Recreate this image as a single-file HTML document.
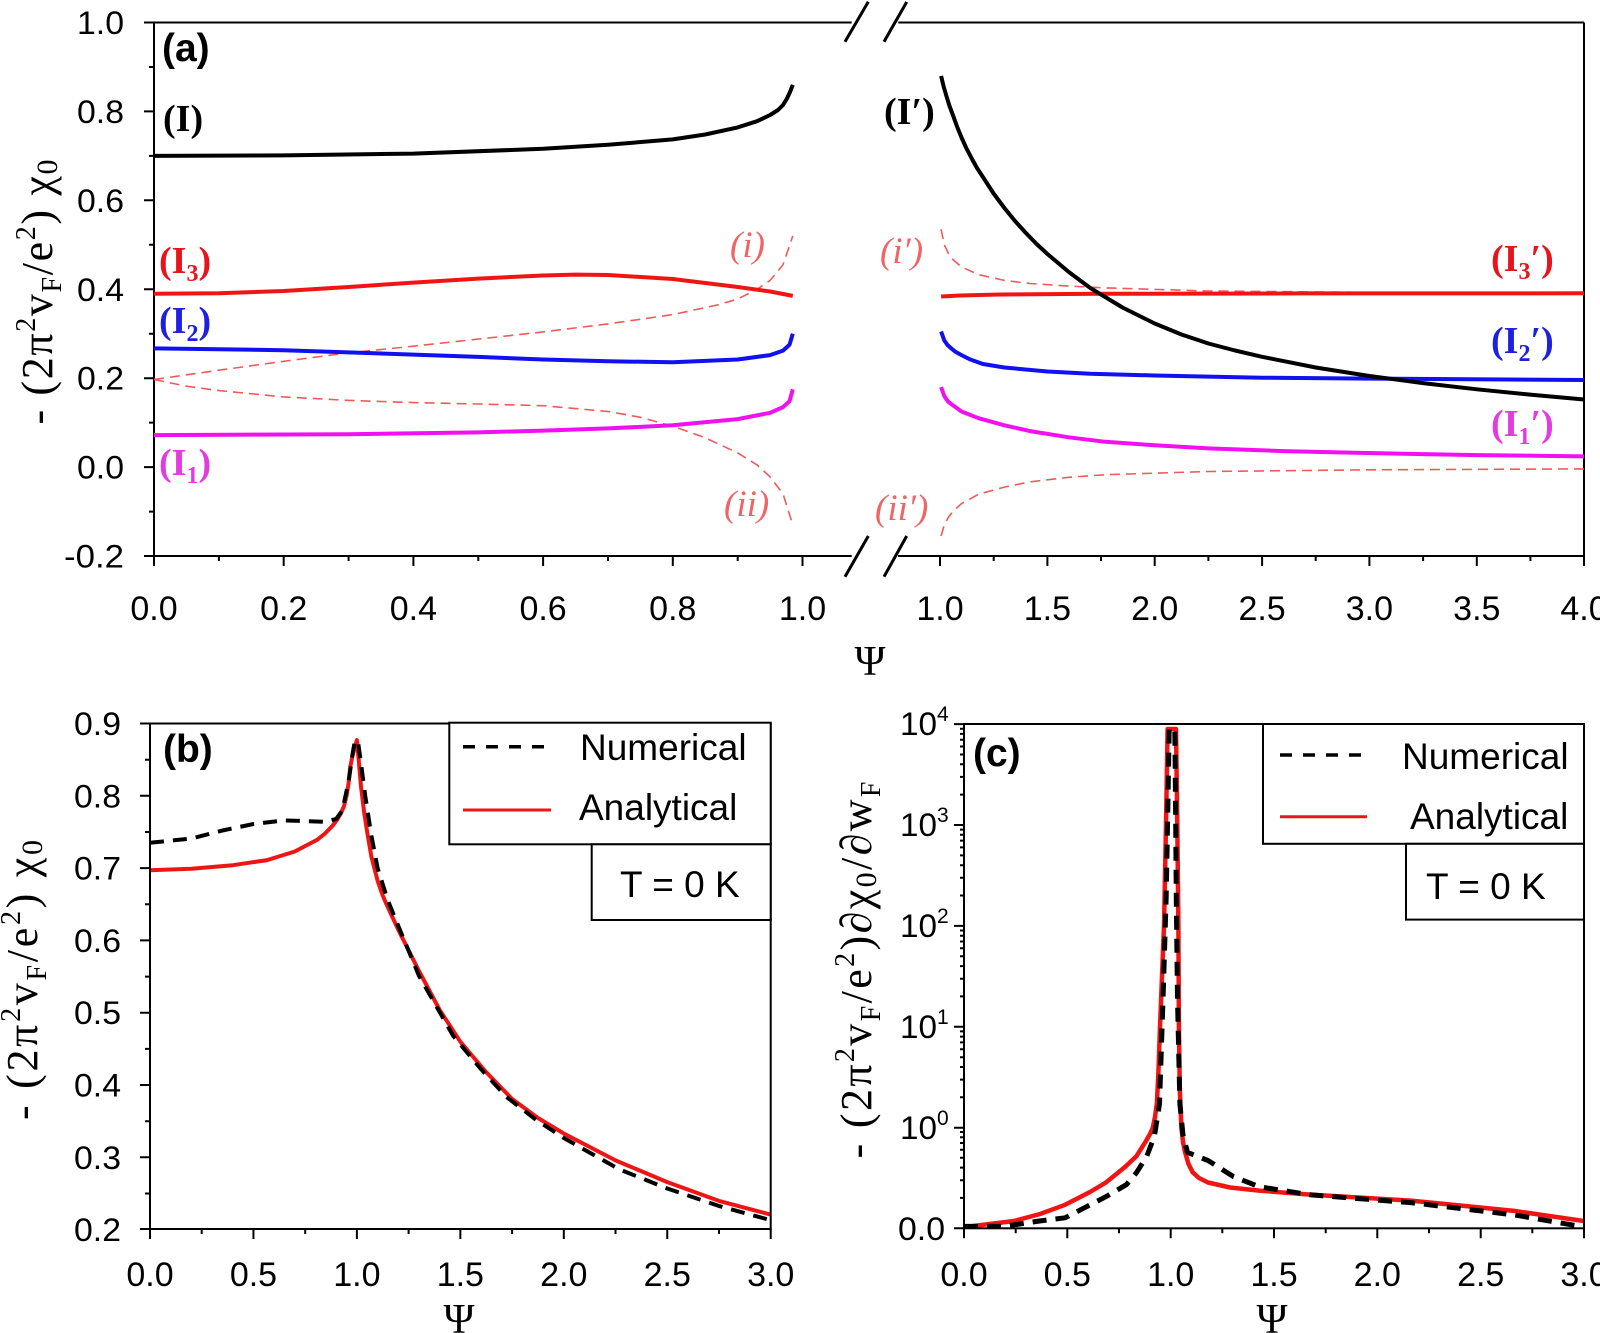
<!DOCTYPE html>
<html><head><meta charset="utf-8"><style>
html,body{margin:0;padding:0;background:#fff;}
svg{display:block;}
.sans{font-family:"Liberation Sans",Arial,sans-serif;}
.serif{font-family:"Liberation Serif","Times New Roman",serif;}
</style></head><body>
<svg width="1600" height="1333" viewBox="0 0 1600 1333" xmlns="http://www.w3.org/2000/svg">
<rect width="1600" height="1333" fill="#fff"/>
<defs>
<clipPath id="ca"><rect x="154" y="22" width="1430" height="534"/></clipPath>
<clipPath id="cb"><rect x="150" y="722" width="621" height="507"/></clipPath>
<clipPath id="cc"><rect x="964" y="722" width="620" height="507"/></clipPath>
</defs>

<!-- ================= PANEL A ================= -->
<g fill="none" stroke="#000" stroke-width="2">
<path d="M154 22.5 V556 M1584 22.5 V556 M154 22.5 H851.7 M898.3 22.5 H1584 M154 556 H851.7 M898 556 H1584"/>
<path d="M154 22.5h-10M154 111.4h-10M154 200.3h-10M154 289.3h-10M154 378.2h-10M154 467.1h-10M154 556h-10
M154 66.96h-5M154 155.9h-5M154 244.8h-5M154 333.7h-5M154 422.6h-5M154 511.6h-5
M154 556v10M283.7 556v10M413.4 556v10M543.1 556v10M672.8 556v10M802.5 556v10
M218.9 556v5M348.6 556v5M478.3 556v5M608 556v5M737.7 556v5
M940 556v10M1047.4 556v10M1154.7 556v10M1262.1 556v10M1369.4 556v10M1476.8 556v10M1584 556v10
M993.7 556v5M1101 556v5M1208.4 556v5M1315.7 556v5M1423.1 556v5M1530.4 556v5"/>
</g>
<g stroke="#000" stroke-width="3" fill="none">
<path d="M845 41.7 L868.3 1.7 M884 41.7 L906.7 2 M845 576.7 L868.3 536 M884 576.7 L906.7 536"/>
</g>

<g class="sans" font-size="32" text-anchor="end" fill="#000">
<text x="124" y="34" textLength="47" lengthAdjust="spacingAndGlyphs">1.0</text>
<text x="124" y="122.9" textLength="47" lengthAdjust="spacingAndGlyphs">0.8</text>
<text x="124" y="211.8" textLength="47" lengthAdjust="spacingAndGlyphs">0.6</text>
<text x="124" y="300.8" textLength="47" lengthAdjust="spacingAndGlyphs">0.4</text>
<text x="124" y="389.7" textLength="47" lengthAdjust="spacingAndGlyphs">0.2</text>
<text x="124" y="478.6" textLength="47" lengthAdjust="spacingAndGlyphs">0.0</text>
<text x="124" y="567.5" textLength="60" lengthAdjust="spacingAndGlyphs">-0.2</text>
</g>
<g class="sans" font-size="34" text-anchor="middle" fill="#000">
<text x="154" y="620">0.0</text><text x="283.7" y="620">0.2</text><text x="413.4" y="620">0.4</text>
<text x="543.1" y="620">0.6</text><text x="672.8" y="620">0.8</text><text x="802.5" y="620">1.0</text>
<text x="940" y="620">1.0</text><text x="1047.4" y="620">1.5</text><text x="1154.7" y="620">2.0</text>
<text x="1262.1" y="620">2.5</text><text x="1369.4" y="620">3.0</text><text x="1476.8" y="620">3.5</text>
<text x="1584" y="620">4.0</text>
</g>
<text class="serif" x="870" y="675" font-size="42" text-anchor="middle">Ψ</text>
<text class="serif" transform="translate(52,292) rotate(-90)" text-anchor="middle" font-size="44" textLength="265" lengthAdjust="spacing">- (2π<tspan font-size="28" dy="-17">2</tspan><tspan dy="17">v</tspan><tspan font-size="28" dy="9">F</tspan><tspan dy="-9">/e</tspan><tspan font-size="28" dy="-17">2</tspan><tspan dy="17">) χ</tspan><tspan font-size="30" dy="5">0</tspan></text>

<g clip-path="url(#ca)" fill="none" stroke-linejoin="round" stroke-linecap="butt">
<g stroke="#f05a5a" stroke-width="1.6" stroke-dasharray="10 6">
<polyline points="154,379.5 218.9,370.2 283.7,361.3 348.6,352.8 413.4,346.2 478.3,339.1 543.1,331.9 608,323.9 672.8,314.6 718.2,304.8 737.7,299 757.1,289.3 770.1,280.4 783,264.8 792.8,235.9"/>
<polyline points="154,379.5 186.4,386.2 218.9,390.6 283.7,396.9 348.6,400.4 413.4,402.6 478.3,404 543.1,405.7 608,411.5 640.4,417.3 672.8,426.2 705.2,437.8 737.7,452.9 757.1,464.9 770.1,476.9 783,493.8 792.8,524.9"/>
<polyline points="941.1,229.2 944.3,244.8 948.6,253.7 952.9,259.5 961.5,267 978.6,274.6 1004.4,280.4 1030.2,283.5 1068.8,286.1 1105.3,287.9 1208.4,291 1369.4,292.4 1584,292.8"/>
<polyline points="941.1,536 944.3,524.9 948.6,516.9 952.9,511.6 961.5,503.6 978.6,494.2 1004.4,487.1 1030.2,481.8 1068.8,477.3 1105.3,474.7 1208.4,471.5 1369.4,469.8 1584,468.9"/>
</g>
<g stroke-width="4">
<polyline stroke="#f010f0" points="154,435.1 348.6,434.2 478.3,432.4 543.1,430.6 608,428.4 672.8,425.3 737.7,419.1 770.1,412.8 783,407.1 789.5,401.3 792.8,389.3"/>
<polyline stroke="#f010f0" points="941.1,387.1 944.3,396 948,401.5 952.9,405.3 961.5,411.5 978.6,418.2 1004.4,425.3 1030.2,431.1 1068.8,437.3 1105.3,441.8 1154.7,445.3 1208.4,448.4 1283.5,451.1 1360.8,452.9 1476.8,455.1 1584,456.4"/>
<polyline stroke="#1010f0" points="154,348.4 283.7,350.2 413.4,354.6 478.3,356.9 543.1,359.5 608,361.3 672.8,362.2 737.7,359.5 770.1,355.1 783,350.6 789.5,344.8 792.8,333.7"/>
<polyline stroke="#1010f0" points="941.1,331.5 944.3,340.4 947.5,345 950.7,347.9 955.5,351.8 961.5,355.1 970,359.4 982.9,364 1004.4,367.5 1047.4,371.5 1090.3,373.7 1154.7,375.5 1262.1,377.7 1369.4,378.6 1584,380"/>
<polyline stroke="#f01515" points="154,293.7 218.9,293.3 283.7,291 348.6,287 413.4,282.6 478.3,278.6 543.1,275.5 575.5,274.6 608,275 672.8,279 737.7,287 770.1,291.5 792.8,295.9"/>
<polyline stroke="#f01515" points="941.1,296.5 960,295.5 1000,294.5 1100,293.8 1300,293.4 1584,293.3"/>
<polyline stroke="#000" points="154,155.9 283.7,155.4 413.4,153.6 543.1,148.8 608,144.8 672.8,139.4 705.2,134.5 737.7,127.4 757.1,121.2 770.1,115 778,110 783,105 787,98.5 790,92 792.8,84.8"/>
<polyline stroke="#000" points="941.1,75.9 943.5,86 946.4,96 949.5,106 952.9,115 957.2,127 961.5,137.5 966,147.5 971.2,157.5 977,168 982.9,177 993.6,193.5 1004.4,208 1015,221 1025.9,233 1036.6,244 1047.4,254 1068.8,272 1090.3,288 1122.5,307.5 1154.7,323.5 1181.5,334.5 1208.4,343.5 1235,350.5 1262.1,356.8 1315.7,367.5 1369.4,376 1423.1,383.1 1476.8,389.3 1530,394.6 1584,399.5"/>
</g>
</g>

<text class="sans" x="162" y="61" font-size="39" font-weight="bold">(a)</text>
<g class="serif" font-size="38" font-weight="bold">
<text x="163" y="131" fill="#000">(I)</text>
<text x="159" y="273" fill="#e8141c">(I<tspan font-size="24" dy="8">3</tspan><tspan dy="-8">)</tspan></text>
<text x="159" y="333" fill="#1f1fe0">(I<tspan font-size="24" dy="8">2</tspan><tspan dy="-8">)</tspan></text>
<text x="159" y="475" fill="#e23be2">(I<tspan font-size="24" dy="8">1</tspan><tspan dy="-8">)</tspan></text>
<text x="884" y="124" fill="#000">(I′)</text>
<text x="1491" y="271" fill="#e8141c">(I<tspan font-size="24" dy="8">3</tspan><tspan dy="-8">′)</tspan></text>
<text x="1491" y="353" fill="#1f1fe0">(I<tspan font-size="24" dy="8">2</tspan><tspan dy="-8">′)</tspan></text>
<text x="1491" y="436" fill="#e23be2">(I<tspan font-size="24" dy="8">1</tspan><tspan dy="-8">′)</tspan></text>
</g>
<g class="serif" font-size="37" font-style="italic" fill="#ef6464">
<text x="730" y="257">(i)</text>
<text x="724" y="516">(ii)</text>
<text x="880" y="263">(i′)</text>
<text x="875" y="520">(ii′)</text>
</g>

<!-- ================= PANEL B ================= -->
<g clip-path="url(#cb)" fill="none" stroke-linejoin="round">
<polyline stroke="#f01515" stroke-width="4" points="150,870.3 191.4,868.8 232.8,865.2 267.1,860.1 294.8,851.5 317,839.9 325,833.5 332.1,826.2 337,820 341,813.2 344,806 346.6,795.8 348.6,783 350.3,766.9 352.2,757 353.8,751 356.9,740.1 359,763.3 361,786.6 364.1,811.9 367.2,832.2 371.4,856.8 377.6,880.7 382.5,895 387.9,907.4 398.3,929.8 419,971 439.7,1010 460.4,1041.8 486,1072 512.1,1099 538,1118 563.8,1133.5 615.5,1160.4 667.3,1182.1 719,1200.9 770.7,1214.6"/>
<polyline stroke="#000" stroke-width="4" stroke-dasharray="14 9" points="150,842.8 191.4,838.5 222.4,830.5 253.5,824 284.5,820.4 305.2,821.1 325.9,821.8 336.2,818.9 342.4,810.3 348.6,781.3 352.8,752.4 354.8,741.6 357.9,740.8 361,763.3 365.2,795.8 371.4,835.6 377.6,868.1 387.9,900.6 398.3,925.9 419,975.8 453.3,1036 480,1068 506.5,1097 535,1119 563.8,1138 619.7,1169.5 667.3,1188.5 719,1206 770.7,1220.2"/>
</g>
<g fill="none" stroke="#000" stroke-width="2">
<rect x="150" y="723.5" width="620.7" height="505.5"/>
<path d="M150 723.5h-10M150 795.8h-10M150 868.1h-10M150 940.4h-10M150 1012.7h-10M150 1085h-10M150 1157.3h-10M150 1229h-10
M150 759.7h-5M150 832h-5M150 904.3h-5M150 976.6h-5M150 1048.9h-5M150 1121.2h-5M150 1193.5h-5
M150 1229v10M253.45 1229v10M356.9 1229v10M460.35 1229v10M563.8 1229v10M667.25 1229v10M770.7 1229v10
M201.7 1229v5M305.2 1229v5M408.6 1229v5M512.1 1229v5M615.5 1229v5M719 1229v5"/>
</g>
<g class="sans" font-size="32" text-anchor="end">
<text x="121" y="735" textLength="47" lengthAdjust="spacingAndGlyphs">0.9</text>
<text x="121" y="807.3" textLength="47" lengthAdjust="spacingAndGlyphs">0.8</text>
<text x="121" y="879.6" textLength="47" lengthAdjust="spacingAndGlyphs">0.7</text>
<text x="121" y="951.9" textLength="47" lengthAdjust="spacingAndGlyphs">0.6</text>
<text x="121" y="1024.2" textLength="47" lengthAdjust="spacingAndGlyphs">0.5</text>
<text x="121" y="1096.5" textLength="47" lengthAdjust="spacingAndGlyphs">0.4</text>
<text x="121" y="1168.8" textLength="47" lengthAdjust="spacingAndGlyphs">0.3</text>
<text x="121" y="1241" textLength="47" lengthAdjust="spacingAndGlyphs">0.2</text>
</g>
<g class="sans" font-size="34" text-anchor="middle">
<text x="150" y="1286">0.0</text><text x="253.45" y="1286">0.5</text><text x="356.9" y="1286">1.0</text>
<text x="460.35" y="1286">1.5</text><text x="563.8" y="1286">2.0</text><text x="667.25" y="1286">2.5</text>
<text x="770.7" y="1286">3.0</text>
</g>
<text class="serif" x="459" y="1333" font-size="42" text-anchor="middle">Ψ</text>
<text class="serif" transform="translate(37,980) rotate(-90)" text-anchor="middle" font-size="44" textLength="280" lengthAdjust="spacing">- (2π<tspan font-size="28" dy="-17">2</tspan><tspan dy="17">v</tspan><tspan font-size="28" dy="9">F</tspan><tspan dy="-9">/e</tspan><tspan font-size="28" dy="-17">2</tspan><tspan dy="17">) χ</tspan><tspan font-size="30" dy="5">0</tspan></text>
<text class="sans" x="163" y="762" font-size="39" font-weight="bold">(b)</text>

<g fill="#fff" stroke="#000" stroke-width="2">
<rect x="449.3" y="722.7" width="321.4" height="121.6"/>
<rect x="591.7" y="844.3" width="179" height="75.7"/>
</g>
<line x1="463" y1="746.7" x2="548" y2="746.7" stroke="#000" stroke-width="3.5" stroke-dasharray="12 11"/>
<line x1="463" y1="810" x2="551" y2="810" stroke="#f01515" stroke-width="3"/>
<g class="sans" font-size="37">
<text x="580" y="760">Numerical</text>
<text x="579" y="820">Analytical</text>
<text x="620" y="897">T = 0 K</text>
</g>

<!-- ================= PANEL C ================= -->
<g clip-path="url(#cc)" fill="none" stroke-linejoin="round">
<polyline stroke="#f01515" stroke-width="4.5" points="964,1227.1 1014,1221 1040,1214 1065.1,1204.8 1090,1192 1105.9,1182.5 1125,1167 1136.5,1156.1 1146,1141 1150,1134 1152.8,1127.7 1155,1117 1156.9,1103 1158.5,1070 1160,1026.8 1164,925.9 1166,825 1167.6,729 1176,729 1177.3,825 1178.4,925.9 1178.9,1026.8 1179.8,1090 1181.4,1127.7 1183,1142 1185,1152 1188.5,1164 1192.7,1172.3 1199,1178 1208,1182.5 1230,1187.5 1259,1190.6 1310,1194.6 1412.1,1200.7 1514.2,1210.9 1584,1221"/>
<polyline stroke="#000" stroke-width="5" stroke-dasharray="14 9" points="964,1226.4 1003.8,1226.4 1039.5,1221 1065.1,1217.8 1105.9,1196.7 1126.3,1184.7 1136.5,1172.6 1146.7,1156.4 1154.4,1136.3 1159.5,1104 1163,1000 1166.1,900 1168,800 1169.2,729 1174.8,729 1175.5,800 1176.3,900 1177.5,1000 1179.9,1104 1183,1135 1187.5,1152.4 1208,1160.5 1233.5,1176.6 1259,1186.7 1310,1194.8 1412.1,1202.8 1514.2,1214.9 1584,1227"/>
</g>
<g fill="none" stroke="#000" stroke-width="2">
<rect x="964" y="724" width="620" height="504.3"/>
<path d="M964 724.1h-10M964 825h-10M964 925.9h-10M964 1026.8h-10M964 1127.7h-10M964 1228.3h-10
M964 1197.9h-4M964 1180.2h-4M964 1167.6h-4M964 1157.8h-4M964 1149.8h-4M964 1143h-4M964 1137.2h-4M964 1132h-4
M964 1097.3h-4M964 1079.6h-4M964 1067h-4M964 1057.2h-4M964 1049.2h-4M964 1042.4h-4M964 1036.6h-4M964 1031.4h-4
M964 996.4h-4M964 978.7h-4M964 966.1h-4M964 956.3h-4M964 948.3h-4M964 941.5h-4M964 935.7h-4M964 930.5h-4
M964 895.5h-4M964 877.8h-4M964 865.2h-4M964 855.4h-4M964 847.4h-4M964 840.6h-4M964 834.8h-4M964 829.6h-4
M964 794.6h-4M964 776.9h-4M964 764.3h-4M964 754.5h-4M964 746.5h-4M964 739.7h-4M964 733.9h-4M964 728.7h-4
M964 1228.3v10M1067.3 1228.3v10M1170.7 1228.3v10M1274 1228.3v10M1377.3 1228.3v10M1480.7 1228.3v10M1584 1228.3v10
M1015.7 1228.3v5M1119 1228.3v5M1222.3 1228.3v5M1325.7 1228.3v5M1429 1228.3v5M1532.3 1228.3v5"/>
</g>
<g class="sans" font-size="32">
<text x="937" y="735" text-anchor="end" textLength="37" lengthAdjust="spacingAndGlyphs">10</text><text x="937" y="721" font-size="21">4</text>
<text x="937" y="836" text-anchor="end" textLength="37" lengthAdjust="spacingAndGlyphs">10</text><text x="937" y="822" font-size="21">3</text>
<text x="937" y="937" text-anchor="end" textLength="37" lengthAdjust="spacingAndGlyphs">10</text><text x="937" y="923" font-size="21">2</text>
<text x="937" y="1038" text-anchor="end" textLength="37" lengthAdjust="spacingAndGlyphs">10</text><text x="937" y="1024" font-size="21">1</text>
<text x="937" y="1139" text-anchor="end" textLength="37" lengthAdjust="spacingAndGlyphs">10</text><text x="937" y="1125" font-size="21">0</text>
<text x="945" y="1240" text-anchor="end" textLength="47" lengthAdjust="spacingAndGlyphs">0.0</text>
</g>
<g class="sans" font-size="34" text-anchor="middle">
<text x="964" y="1286">0.0</text><text x="1067.3" y="1286">0.5</text><text x="1170.7" y="1286">1.0</text>
<text x="1274" y="1286">1.5</text><text x="1377.3" y="1286">2.0</text><text x="1480.7" y="1286">2.5</text>
<text x="1584" y="1286">3.0</text>
</g>
<text class="serif" x="1272" y="1333" font-size="42" text-anchor="middle">Ψ</text>
<text class="serif" transform="translate(871,970) rotate(-90)" text-anchor="middle" font-size="44" textLength="377" lengthAdjust="spacing">- (2π<tspan font-size="28" dy="-17">2</tspan><tspan dy="17">v</tspan><tspan font-size="28" dy="9">F</tspan><tspan dy="-9">/e</tspan><tspan font-size="28" dy="-17">2</tspan><tspan dy="17">)∂χ</tspan><tspan font-size="30" dy="5">0</tspan><tspan dy="-5">/∂w</tspan><tspan font-size="28" dy="9">F</tspan></text>
<text class="sans" x="973" y="766" font-size="39" font-weight="bold">(c)</text>

<g fill="#fff" stroke="#000" stroke-width="2">
<rect x="1263" y="724" width="321" height="119.8"/>
<rect x="1406" y="843.8" width="178" height="75.8"/>
</g>
<line x1="1280" y1="755" x2="1361" y2="755" stroke="#000" stroke-width="3.5" stroke-dasharray="12 11"/>
<line x1="1280" y1="816.8" x2="1367" y2="816.8" stroke="#f01515" stroke-width="3"/>
<g class="sans" font-size="37">
<text x="1402" y="769">Numerical</text>
<text x="1410" y="829">Analytical</text>
<text x="1426" y="899">T = 0 K</text>
</g>
</svg>
</body></html>
